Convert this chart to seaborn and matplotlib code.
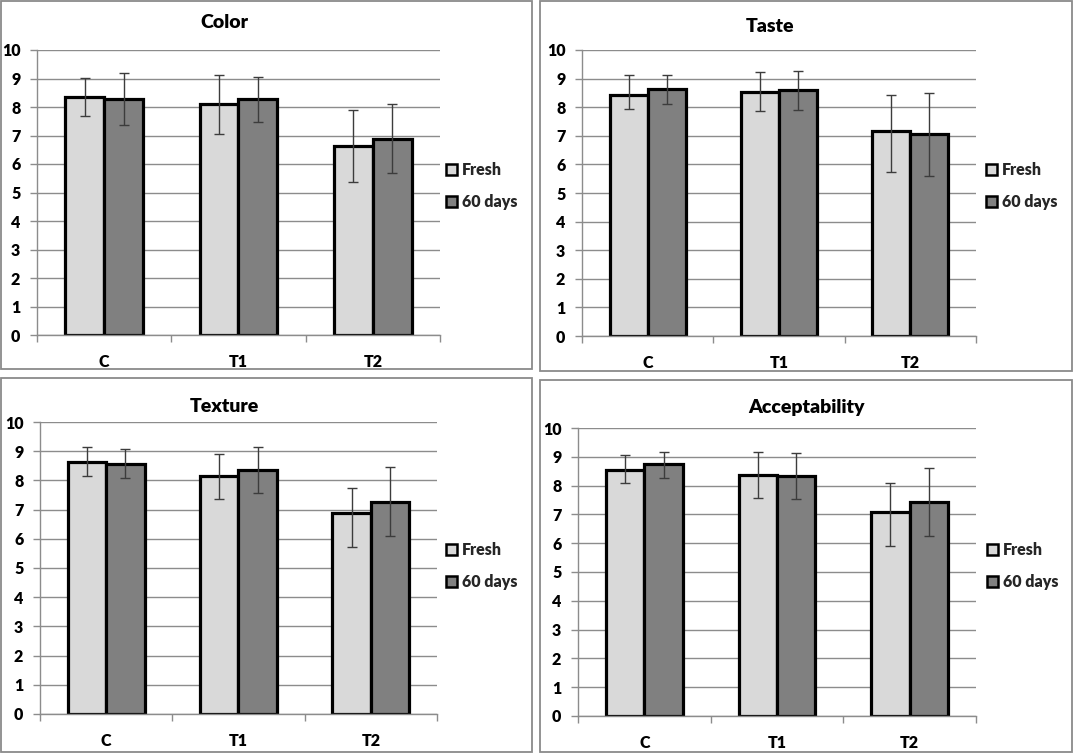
import matplotlib
matplotlib.use("Agg")
import matplotlib.pyplot as plt
from matplotlib.patches import Rectangle
from matplotlib.container import BarContainer
import seaborn as sns
import pandas as pd
import numpy as np

# ---------------- data ----------------
categories = ["C", "T1", "T2"]
series_names = ["Fresh", "60 days"]
panel_titles = ["Color", "Taste", "Texture", "Acceptability"]

color_fresh = [8.36, 8.09, 6.62]
color_60 = [8.27, 8.27, 6.89]
color_fresh_hi = [9.02, 9.13, 7.91]
color_fresh_lo = [7.69, 7.06, 5.36]
color_60_hi = [9.18, 9.05, 8.10]
color_60_lo = [7.36, 7.49, 5.67]

taste_fresh = [8.44, 8.53, 7.18]
taste_60 = [8.63, 8.60, 7.08]
taste_fresh_hi = [9.13, 9.23, 8.41]
taste_fresh_lo = [7.94, 7.88, 5.75]
taste_60_hi = [9.13, 9.28, 8.51]
taste_60_lo = [8.12, 7.91, 5.61]

texture_fresh = [8.63, 8.15, 6.90]
texture_60 = [8.56, 8.36, 7.26]
texture_fresh_hi = [9.16, 8.92, 7.73]
texture_fresh_lo = [8.15, 7.38, 5.73]
texture_60_hi = [9.07, 9.16, 8.45]
texture_60_lo = [8.08, 7.57, 6.10]

accept_fresh = [8.53, 8.37, 7.10]
accept_60 = [8.74, 8.35, 7.42]
accept_fresh_hi = [9.05, 9.17, 8.10]
accept_fresh_lo = [8.09, 7.58, 5.91]
accept_60_hi = [9.17, 9.14, 8.62]
accept_60_lo = [8.27, 7.55, 6.24]

y_ticks = list(range(0, 11))

panels_data = [
    (color_fresh, color_60, color_fresh_lo, color_fresh_hi, color_60_lo, color_60_hi),
    (taste_fresh, taste_60, taste_fresh_lo, taste_fresh_hi, taste_60_lo, taste_60_hi),
    (texture_fresh, texture_60, texture_fresh_lo, texture_fresh_hi, texture_60_lo, texture_60_hi),
    (accept_fresh, accept_60, accept_fresh_lo, accept_fresh_hi, accept_60_lo, accept_60_hi),
]

# ---------------- layout (pixels) ----------------
W, H = 1073, 753
axes_px = [(37, 440, 50, 335), (582, 976, 50, 336), (40, 437, 422, 714), (578, 976, 428, 716)]
boxes_px = [(1, 532, 1, 369), (540, 1072, 1, 371), (1, 532, 378, 752), (540, 1072, 380, 752)]
titles_px = [(224, 22), (770, 27), (224, 406), (807, 407)]
legend_px = [(446, 186), (986, 186), (446, 566), (987, 566)]

sns.set_theme(style="white")
plt.rcParams["font.family"] = ["Lato", "DejaVu Sans"]
plt.rcParams["font.weight"] = "bold"

fig = plt.figure(figsize=(W / 100, H / 100), dpi=100)
fig.patch.set_facecolor("white")

palette = {"Fresh": "#d9d9d9", "60 days": "#808080"}
grey = "#8c8c8c"
tick_fs = 11.5

for i in range(4):
    fresh, sixty, f_lo, f_hi, s_lo, s_hi = panels_data[i]
    df = pd.DataFrame({
        "cat": categories * 2,
        "series": [series_names[0]] * 3 + [series_names[1]] * 3,
        "val": list(fresh) + list(sixty),
    })
    l, r, t, b = axes_px[i]
    ax = fig.add_axes([l / W, 1 - b / H, (r - l) / W, (b - t) / H])
    sns.barplot(data=df, x="cat", y="val", hue="series", palette=palette,
                hue_order=series_names, order=categories, width=0.58, gap=0,
                edgecolor="black", linewidth=2.3, errorbar=None, ax=ax, zorder=2)
    handles, labels = ax.get_legend_handles_labels()
    if ax.get_legend() is not None:
        ax.get_legend().remove()

    bar_conts = [c for c in ax.containers if isinstance(c, BarContainer)]
    lows = [f_lo, s_lo]
    highs = [f_hi, s_hi]
    means = [fresh, sixty]
    for k, cont in enumerate(bar_conts):
        xs = [p.get_x() + p.get_width() / 2 for p in cont.patches]
        m = np.array(means[k])
        yerr = np.vstack([m - np.array(lows[k]), np.array(highs[k]) - m])
        ax.errorbar(xs, m, yerr=yerr, fmt="none", ecolor="#3c3c3c",
                    elinewidth=1.0, capsize=3.5, capthick=1.0, zorder=3)

    ax.set_ylim(0, 10)
    ax.set_xlim(-0.5, 2.5)
    ax.set_yticks(y_ticks)
    ax.set_xlabel("")
    ax.set_ylabel("")
    ax.yaxis.grid(True, color=grey, lw=1.0)
    ax.xaxis.grid(False)
    ax.set_axisbelow(True)
    for s in ["top", "right"]:
        ax.spines[s].set_visible(False)
    for s in ["left", "bottom"]:
        ax.spines[s].set_color(grey)
        ax.spines[s].set_linewidth(1.0)
    ax.tick_params(axis="y", which="major", direction="out", length=5, width=1,
                   color=grey, labelsize=tick_fs, pad=7, left=True, labelcolor="black")
    ax.tick_params(axis="x", which="major", length=0, labelsize=tick_fs, pad=14,
                   labelcolor="black")
    ax.set_xticks([-0.5, 0.5, 1.5, 2.5], minor=True)
    ax.tick_params(axis="x", which="minor", direction="out", length=5, width=1,
                   color=grey, bottom=True)
    for lab in ax.get_xticklabels() + ax.get_yticklabels():
        lab.set_fontweight("heavy")
    ax.set_facecolor("white")

    tx, ty = titles_px[i]
    fig.text(tx / W, 1 - ty / H, panel_titles[i], ha="center", va="center",
             fontsize=14, fontweight="heavy", color="black")

    lx, ly = legend_px[i]
    leg = ax.legend(handles, labels, loc="center left",
                    bbox_to_anchor=(lx / W, 1 - ly / H), bbox_transform=fig.transFigure,
                    frameon=False, borderpad=0, borderaxespad=0, handlelength=0.7,
                    handleheight=0.7, handletextpad=0.3, labelspacing=1.0,
                    prop={"size": tick_fs, "weight": "heavy"})
    for hdl in leg.legend_handles:
        hdl.set_edgecolor("black")
        hdl.set_linewidth(1.8)

    x0, x1, y0, y1 = boxes_px[i]
    fig.add_artist(Rectangle((x0 / W, 1 - y1 / H), (x1 - x0) / W, (y1 - y0) / H,
                             transform=fig.transFigure, fill=False,
                             edgecolor="#8a8a8a", lw=1.3))

fig.savefig("out.png", dpi=100, facecolor="white")
